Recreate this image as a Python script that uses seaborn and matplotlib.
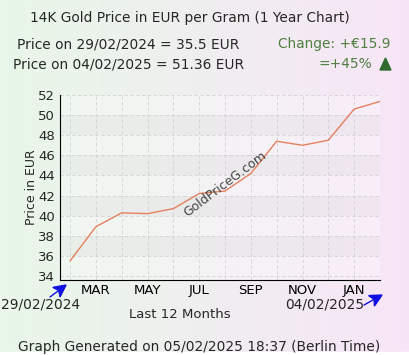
import numpy as np
import pandas as pd
import seaborn as sns
import matplotlib.pyplot as plt

# values, one point per month tick
price = [35.5, 38.9, 40.28, 40.2, 40.7, 42.2, 42.45, 44.2, 47.4, 47.0, 47.5, 50.6, 51.36]
month_labels = ["", "MAR", "", "MAY", "", "JUL", "", "SEP", "", "NOV", "", "JAN", ""]
y_ticks = [34, 36, 38, 40, 42, 44, 46, 48, 50, 52]
band_lo = [36, 40, 44, 48]

sns.set_style("white")
plt.rcParams["font.family"] = ["DejaVu Sans"]

W, H = 410, 355
fig = plt.figure(figsize=(W / 100, H / 100), dpi=100)

# green -> pink background gradient
bg = fig.add_axes([0, 0, 1, 1], zorder=-10)
grad = np.linspace(0, 1, 256)
c0 = np.array([0.91, 0.97, 0.91])
c1 = np.array([0.97, 0.90, 0.97])
img = c0[None, None, :] * (1 - grad)[None, :, None] + c1[None, None, :] * grad[None, :, None]
bg.imshow(img, aspect="auto", extent=[0, 1, 0, 1])
bg.axhspan(0, 3 / H, color="white")
bg.set_xlim(0, 1)
bg.set_ylim(0, 1)
bg.axis("off")

ax = fig.add_axes([60 / W, 75 / H, 320 / W, 185 / H])
ax.set_facecolor((1, 1, 1, 0.3))

df = pd.DataFrame({"x": np.arange(len(price)), "price": price})
sns.lineplot(data=df, x="x", y="price", ax=ax, color="#e5805f", linewidth=1.0)

for lo in band_lo:
    ax.axhspan(lo, lo + 2, color="#b0b0b0", alpha=0.12, lw=0, zorder=0)
for yv in y_ticks:
    ax.axhline(yv, color="#d2d2d2", lw=0.6, ls=(0, (4, 3)), zorder=0.5)
for xv in range(len(price)):
    ax.axvline(xv, color="#d2d2d2", lw=0.6, ls=(0, (4, 3)), zorder=0.5)

ax.set_xlim(-0.39, 12)
ax.set_ylim(33.6, 52)
ax.set_xticks(range(len(price)))
ax.set_xticklabels(month_labels)
ax.set_yticks(y_ticks)
ax.set_yticks([v + 1 for v in y_ticks[:-1]], minor=True)
ax.tick_params(axis="x", direction="inout", length=5, width=0.8, labelsize=9.5, pad=0.5, colors="black")
ax.tick_params(axis="y", which="major", direction="inout", length=5, width=0.8, labelsize=9.5, pad=1)
ax.tick_params(axis="y", which="minor", direction="out", length=2.5, width=0.8, color="#d04040")
for s in ["top", "right"]:
    ax.spines[s].set_visible(False)
for s in ["left", "bottom"]:
    ax.spines[s].set_color("black")
    ax.spines[s].set_linewidth(0.8)
ax.set_xlabel("")
ax.set_ylabel("Price in EUR", fontsize=9, labelpad=0)

# watermark
ax.text(6.0, 43.1, "GoldPriceG.com", rotation=37, fontsize=9, color="#444444",
        ha="center", va="center", zorder=3)

def fx(px):
    return px / W

def fy(py):
    return 1 - py / H

fs = 9.9
fig.text(fx(190), fy(18), "14K Gold Price in EUR per Gram (1 Year Chart)", ha="center", va="center", fontsize=fs)
fig.text(fx(128), fy(44), "Price on 29/02/2024 = 35.5 EUR", ha="center", va="center", fontsize=fs)
fig.text(fx(129), fy(64), "Price on 04/02/2025 = 51.36 EUR", ha="center", va="center", fontsize=fs)
fig.text(fx(391), fy(44), "Change: +€15.9", ha="right", va="center", fontsize=fs, color="#4f7f3f")
fig.text(fx(372), fy(64), "=+45%", ha="right", va="center", fontsize=fs, color="#4f7f3f")
fig.patches.append(plt.Polygon([[fx(380), fy(70)], [fx(391), fy(70)], [fx(385.5), fy(58)]],
                               closed=True, transform=fig.transFigure, color="#2e6b2e"))

fig.text(fx(41), fy(304), "29/02/2024", ha="center", va="center", fontsize=fs)
fig.text(fx(364), fy(304), "04/02/2025", ha="right", va="center", fontsize=fs)
fig.text(fx(180), fy(315), "Last 12 Months", ha="center", va="center", fontsize=9.5)
fig.text(fx(199), fy(347), "Graph Generated on 05/02/2025 18:37 (Berlin Time)", ha="center", va="center", fontsize=fs)

# blue pointer arrows (tail start, tip), pixel coords
for (x0, y0, x1, y1) in [(50, 297, 66, 285), (364, 305, 382, 295)]:
    d = np.array([x1 - x0, y1 - y0], dtype=float)
    d /= np.hypot(*d)
    n = np.array([-d[1], d[0]])
    tip = np.array([x1, y1], dtype=float)
    base = tip - 12 * d
    pts = [tip, base + 6 * n, base + 3 * d, base - 6 * n]
    fig.patches.append(plt.Polygon([[fx(p[0]), fy(p[1])] for p in pts], closed=True,
                                   transform=fig.transFigure, color="#1010e0"))
    fig.lines.append(plt.Line2D([fx(x0), fx(base[0] + 3 * d[0])], [fy(y0), fy(base[1] + 3 * d[1])],
                                transform=fig.transFigure, color="#1010e0", lw=1.0))

fig.savefig("out.png", dpi=100)
